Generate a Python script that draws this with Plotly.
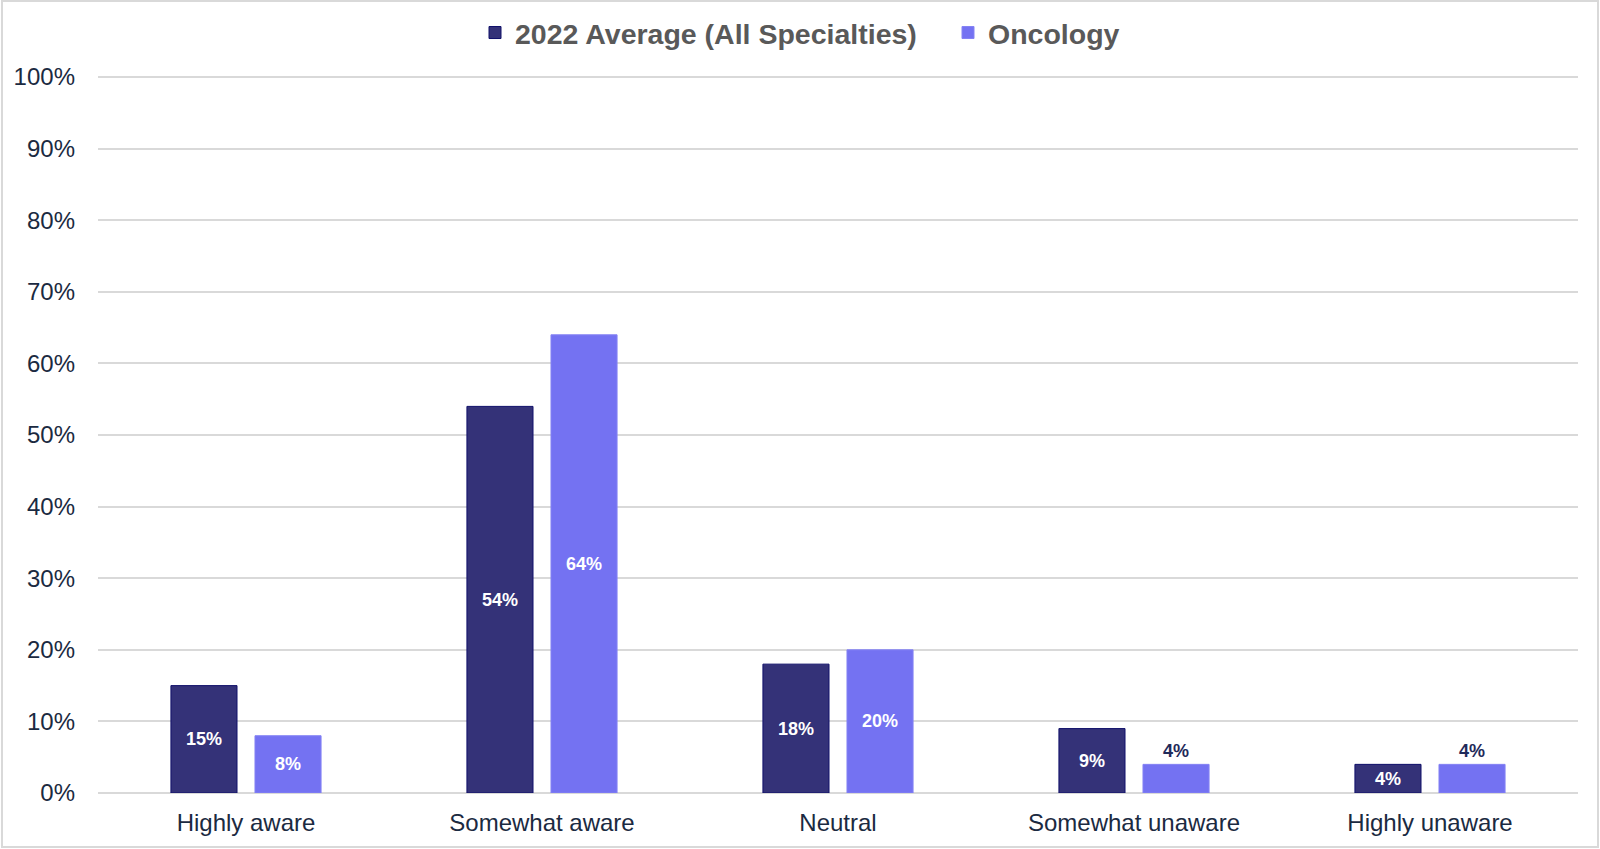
import plotly.graph_objects as go

categories = ["Highly aware", "Somewhat aware", "Neutral", "Somewhat unaware", "Highly unaware"]
avg_2022 = [15, 54, 18, 9, 4]
oncology = [8, 64, 20, 4, 4]
series_names = ["2022 Average (All Specialties)", "Oncology"]
y_tick_vals = [0, 10, 20, 30, 40, 50, 60, 70, 80, 90, 100]
y_tick_text = ["0%", "10%", "20%", "30%", "40%", "50%", "60%", "70%", "80%", "90%", "100%"]
avg_text_pos = ["inside", "inside", "inside", "inside", "inside"]
onc_text_pos = ["inside", "inside", "inside", "outside", "outside"]

FONT = "Liberation Sans, Arial, sans-serif"
DARK = "#343278"
LIGHT = "#7472F2"

fig = go.Figure()
fig.add_trace(go.Bar(
    name=series_names[0], x=categories, y=avg_2022,
    marker=dict(color=DARK, line=dict(color="#10106a", width=1)),
    text=[f"{v}%" for v in avg_2022], textposition=avg_text_pos,
    insidetextanchor="middle", constraintext="none", cliponaxis=False,
    insidetextfont=dict(family=FONT, size=18, color="white", weight="bold"),
    outsidetextfont=dict(family=FONT, size=18, color="#1f2a5a", weight="bold"),
))
fig.add_trace(go.Bar(
    name=series_names[1], x=categories, y=oncology,
    marker=dict(color=LIGHT, line=dict(color="#8583f4", width=1)),
    text=[f"{v}%" for v in oncology], textposition=onc_text_pos,
    insidetextanchor="middle", constraintext="none", cliponaxis=False,
    insidetextfont=dict(family=FONT, size=18, color="white", weight="bold"),
    outsidetextfont=dict(family=FONT, size=18, color="#1f2a5a", weight="bold"),
))

fig.update_layout(
    width=1600, height=849,
    margin=dict(l=98, r=22, t=76, b=56, autoexpand=False),
    paper_bgcolor="white", plot_bgcolor="white",
    barmode="group", bargap=0.432, bargroupgap=0.214,
    font=dict(family=FONT, color="#1b2a41"),
    legend=dict(
        orientation="h", xref="container", yref="container",
        x=475 / 1600, xanchor="left", y=1 - 33 / 849, yanchor="middle",
        font=dict(family=FONT, size=28.5, color="#595959", weight="bold"),
        itemwidth=30, traceorder="normal", bgcolor="rgba(0,0,0,0)",
        entrywidth=428, entrywidthmode="pixels",
    ),
    xaxis=dict(
        showgrid=False, showline=False, ticks="", automargin=False,
        tickfont=dict(family=FONT, size=24, color="#1b2a41"),
        ticklabelstandoff=13,
    ),
    yaxis=dict(
        range=[0, 100.15], tickvals=y_tick_vals, ticktext=y_tick_text,
        automargin=False,
        showgrid=True, gridcolor="#d9d9d9", gridwidth=1.5,
        zeroline=True, zerolinecolor="#d9d9d9", zerolinewidth=1.5,
        showline=False, ticks="",
        tickfont=dict(family=FONT, size=24, color="#1b2a41"),
        ticklabelstandoff=22,
    ),
    shapes=[dict(
        type="rect", xref="paper", yref="paper",
        x0=(2 - 98) / 1480, x1=(1598 - 98) / 1480,
        y0=(793 - 847) / 717, y1=(793 - 1) / 717,
        line=dict(color="#d9d9d9", width=2), fillcolor="rgba(0,0,0,0)",
        layer="below",
    )],
)

fig.write_html(
    "out.html",
    config={"displayModeBar": False},
    post_script="document.body.style.margin='0';",
)
